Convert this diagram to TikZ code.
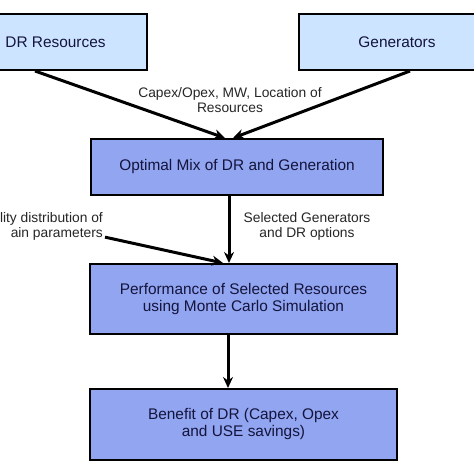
\documentclass[tikz,border=0pt]{standalone}
\usepackage{fontspec}
\setmainfont{Liberation Sans}
\usetikzlibrary{arrows.meta, positioning, calc}
\definecolor{lightbox}{RGB}{204,228,255}
\definecolor{darkbox}{RGB}{145,165,240}
\definecolor{boxtext}{RGB}{20,20,60}

\begin{document}
\begin{tikzpicture}[x=1pt, y=-1pt,
    box/.style={draw, line width=2pt, inner sep=0pt, text=boxtext, font=\fontsize{15.4}{17}\selectfont, align=center},
    inbox/.style={box, fill=lightbox},
    stepbox/.style={box, fill=darkbox},
    lbl/.style={inner sep=0pt, text=black!85, font=\fontsize{13.8}{15}\selectfont},
    arr/.style={-{Stealth[length=11pt,width=10pt]}, line width=3pt}]
  \useasboundingbox (0,0) rectangle (474,474);
  \clip (0,0) rectangle (474,474);
  \fill[white] (0,0) rectangle (474,474);

  \node[inbox, minimum width=183pt, minimum height=56pt] (dr) at (55.5,42) {DR Resources};
  \node[inbox, minimum width=196pt, minimum height=56pt] (gen) at (397,42) {Generators};
  \node[stepbox, minimum width=292pt, minimum height=56pt] (opt) at (237,167) {Optimal Mix of DR and Generation};
  \node[stepbox, minimum width=307pt, minimum height=70pt] (perf) at (243.5,299) {Performance of Selected Resources\\using Monte Carlo Simulation};
  \node[stepbox, minimum width=307pt, minimum height=71pt] (ben) at (243.5,424.5) {Benefit of DR (Capex, Opex\\and USE savings)};

  \node[lbl, align=center] (capex) at (230,100) {Capex/Opex, MW, Location of\\Resources};
  \node[lbl, align=center] (sel) at (307,226) {Selected Generators\\and DR options};
  \node[lbl, align=right, anchor=east] (param) at (103,226) {lity distribution of\\ain parameters};

  \draw[arr] ([xshift=-20.5pt]dr.south) -- ([xshift=-12pt]opt.north);
  \draw[arr] ([xshift=13pt]gen.south) -- ([xshift=-4pt]opt.north);
  \draw[arr] ([xshift=-8pt]opt.south) -- ([xshift=-14.5pt]perf.north);
  \draw[arr] ([xshift=2pt,yshift=3pt]param.south east) -- ([xshift=-20.5pt]perf.north);
  \draw[arr] ([xshift=-15.5pt]perf.south) -- ([xshift=-15.5pt]ben.north);
\end{tikzpicture}
\end{document}
